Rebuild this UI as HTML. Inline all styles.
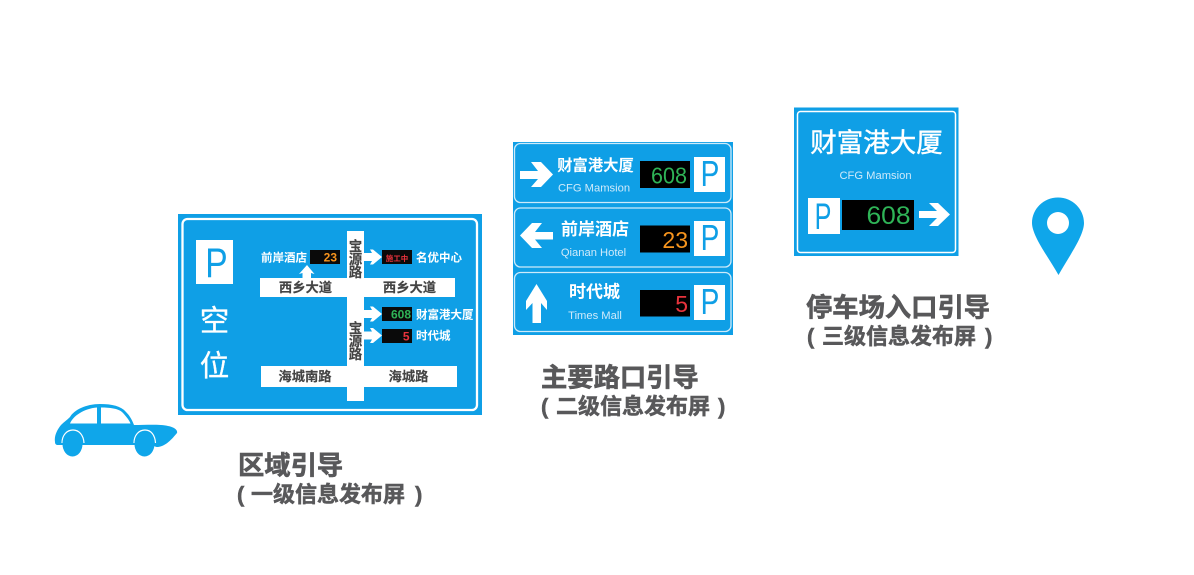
<!DOCTYPE html>
<html><head><meta charset="utf-8"><style>
html,body{margin:0;padding:0;background:#fff;width:1194px;height:575px;overflow:hidden}
svg{display:block}
text{font-family:"Liberation Sans","Noto Sans CJK SC",sans-serif}
.h{font-weight:700;fill:#58585a;stroke:#58585a;stroke-width:.6px;font-size:26.3px}
.s{font-weight:700;fill:#58585a;stroke:#58585a;stroke-width:.5px;font-size:22px}
.w{fill:#fff;font-weight:700}
.r{fill:#444;font-weight:700;stroke:#444;stroke-width:.15px}
.e{fill:#cfeafa;font-size:11.2px}
.led{font-family:"Liberation Sans",sans-serif}
.p{font-family:"Liberation Sans",sans-serif;fill:#0f9fe6}
</style></head><body>
<svg width="1194" height="575" viewBox="0 0 1194 575" xmlns="http://www.w3.org/2000/svg">
<defs>
<path id="ar" d="M0,-4 H8 L6,-7.500 H9 L18,0 L9,7.500 H6 L8,4 H0Z" fill="#fff"/>
</defs>

<!-- Car -->
<path fill="#0fa6ea" d="M55,442 C54,436 57,430 61,425 C64,422 67,420 70,417 C74,410 86,404 100,404 C112,404 121,406 126,412 C130,416 132,420 134,425 C145,425 160,424 168,426 C174,427 178,430 177,433 C172,439 166,446 158,447 C155,447 154,446 153,445 L83,445 C78,445 62,445 58,445 C56,445 55,444 55,442Z"/>
<path d="M62,443 C62,435 67,430 73,430 C79,430 83.500,435 84,443 M134,443 C134,435 139,430 145,430 C151,430 155,435 155.500,443" fill="none" stroke="#fff" stroke-width="1.200"/>
<ellipse cx="72.500" cy="444" rx="10" ry="12.500" fill="#0fa6ea"/>
<ellipse cx="144.500" cy="444" rx="10" ry="12.500" fill="#0fa6ea"/>
<path d="M70,423.500 C73,416 84,408.500 97,407.500 L97,423.500 Z M101,407.500 C110,407.500 118,408.500 122,412 C126,416 129,420 130.500,423.500 L101,423.500 Z" fill="#fff"/>

<!-- Sign 1 -->
<rect x="178" y="214" width="304" height="201" fill="#0f9fe6"/>
<rect x="182.500" y="219" width="294.500" height="191" rx="5" fill="none" stroke="#fff" stroke-width="2.300"/>
<rect x="196" y="240" width="37" height="44" fill="#fff"/>
<text class="p" transform="translate(216.500,277) scale(.8,1)" text-anchor="middle" font-size="42">P</text>
<text x="214.500" y="331" text-anchor="middle" font-size="29.500" fill="#fff" stroke="#fff" stroke-width=".3">空</text>
<text x="214.500" y="376" text-anchor="middle" font-size="29.500" fill="#fff" stroke="#fff" stroke-width=".3">位</text>
<rect x="347" y="231" width="17" height="170" fill="#fff"/>
<rect x="260" y="278" width="195" height="19" fill="#fff"/>
<rect x="261" y="366" width="196" height="21" fill="#fff"/>
<g class="r" font-size="13.500" text-anchor="middle">
<text x="355.500" y="251">宝</text><text x="355.500" y="264">源</text><text x="355.500" y="277">路</text>
<text x="355.500" y="333">宝</text><text x="355.500" y="346">源</text><text x="355.500" y="359">路</text>
</g>
<g class="r" font-size="13.300" text-anchor="middle">
<text x="305.500" y="292">西乡大道</text><text x="409.500" y="292">西乡大道</text>
<text x="305" y="381">海城南路</text><text x="408.500" y="381">海城路</text>
</g>
<rect x="310" y="250" width="30" height="14" fill="#0a0a0a"/>
<rect x="382" y="250" width="30" height="14" fill="#0a0a0a"/>
<rect x="382" y="307" width="30" height="14" fill="#0a0a0a"/>
<rect x="382" y="329" width="30" height="14" fill="#0a0a0a"/>
<g class="led" font-weight="700" text-anchor="end" font-size="12">
<text x="337" y="261.500" fill="#f7941d">23</text>
<text x="411" y="318.500" fill="#2fb457">608</text>
<text x="409.500" y="340.500" fill="#e8333c">5</text>
</g>
<text x="397" y="261" text-anchor="middle" font-size="7.500" font-weight="700" fill="#e8333c">施工中</text>
<g class="w" font-size="11.500">
<text x="261" y="261.500">前岸酒店</text>
<text x="416" y="261.500">名优中心</text>
<text x="416" y="318.500">财富港大厦</text>
<text x="416" y="339.500">时代城</text>
</g>
<use href="#ar" transform="translate(364,257)"/>
<use href="#ar" transform="translate(364,314)"/>
<use href="#ar" transform="translate(364,335.500)"/>
<path d="M302.500,278 V273 L299,274 L307,265 L314.500,274 L311,273 V278Z" fill="#fff"/>

<!-- Sign 2 -->
<rect x="513" y="142" width="220" height="193" fill="#0f9fe6"/>
<g fill="none" stroke="#cdeafa" stroke-width="1.300">
<rect x="514.500" y="143.500" width="216.500" height="59" rx="6"/>
<rect x="514.500" y="208" width="216.500" height="59" rx="6"/>
<rect x="514.500" y="272.500" width="216.500" height="59" rx="6"/>
</g>
<rect x="640" y="161" width="50" height="27" fill="#000"/>
<rect x="640" y="225.500" width="50" height="27" fill="#000"/>
<rect x="640" y="290" width="50" height="26.500" fill="#000"/>
<rect x="694" y="157" width="31" height="35" fill="#fff"/>
<rect x="694" y="221" width="31" height="35" fill="#fff"/>
<rect x="694" y="285" width="31" height="35" fill="#fff"/>
<g class="p" font-size="36" text-anchor="middle">
<text transform="translate(710,186) scale(.78,1)">P</text>
<text transform="translate(710,250) scale(.78,1)">P</text>
<text transform="translate(710,314) scale(.78,1)">P</text>
</g>
<g class="led" font-size="23" text-anchor="end">
<text x="687" y="183.500" fill="#2fb457" textLength="36" lengthAdjust="spacingAndGlyphs">608</text>
<text x="688" y="248" fill="#f7941d">23</text>
<text x="688" y="312" fill="#e8333c">5</text>
</g>
<g class="w" text-anchor="middle">
<text x="595.500" y="170.500" font-size="15.300">财富港大厦</text>
<text x="595" y="235" font-size="17">前岸酒店</text>
<text x="594.500" y="297.500" font-size="17">时代城</text>
</g>
<g class="e" text-anchor="middle">
<text x="594" y="191.500">CFG Mamsion</text>
<text x="593.500" y="256">Qianan Hotel</text>
<text x="595" y="319">Times Mall</text>
</g>
<path d="M520,171 H538 L531,162 H541 L553,174.500 L541,187 H531 L538,179 H520Z" fill="#fff"/>
<path d="M553,232 H535 L542,223 H532 L520,235.500 L532,248 H542 L535,239.500 H553Z" fill="#fff"/>
<path d="M532.500,323 V303 L526,310 V301 L536.500,284 L547,301 V310 L541,303 V323Z" fill="#fff"/>

<!-- Sign 3 -->
<rect x="794" y="107.500" width="164.500" height="148.500" fill="#0f9fe6"/>
<rect x="797.500" y="111.500" width="158" height="141" rx="3" fill="none" stroke="#fff" stroke-width="1.500"/>
<text x="876.500" y="152" text-anchor="middle" font-size="26.500" fill="#fff" stroke="#fff" stroke-width=".4">财富港大厦</text>
<text x="875.500" y="179" text-anchor="middle" font-size="11.200" fill="#cfeafa">CFG Mamsion</text>
<rect x="808" y="198" width="32" height="36" fill="#fff"/>
<text class="p" transform="translate(823,229) scale(.68,1)" text-anchor="middle" font-size="37">P</text>
<rect x="842" y="200" width="72" height="30" fill="#000"/>
<text x="910.500" y="224" text-anchor="end" class="led" font-size="25" fill="#2fb457" textLength="44" lengthAdjust="spacingAndGlyphs">608</text>
<path d="M919,211 H937 L929,203 H938 L950,214.500 L938,226 H929 L937,218 H919Z" fill="#fff"/>

<!-- Pin -->
<path fill="#0fa6ea" d="M1058,197.500 C1072.500,197.500 1084,209 1084,223 C1084,236 1068,258 1058.500,275 C1049,258 1032,236 1032,223 C1032,209 1043.500,197.500 1058,197.500Z"/>
<circle cx="1058" cy="223" r="11" fill="#fff"/>

<!-- Captions -->
<text class="h" x="238" y="474.500">区域引导</text>
<text class="s" x="237" y="502">(</text><text class="s" x="251" y="502">一级信息发布屏</text><text class="s" x="415" y="502">)</text>

<text class="h" x="541" y="386.500">主要路口引导</text>
<text class="s" x="541" y="414">(</text><text class="s" x="556" y="414">二级信息发布屏</text><text class="s" x="718" y="414">)</text>

<text class="h" x="806" y="316.500">停车场入口引导</text>
<text class="s" x="807" y="344">(</text><text class="s" x="822" y="344">三级信息发布屏</text><text class="s" x="985" y="344">)</text>
</svg>
</body></html>
